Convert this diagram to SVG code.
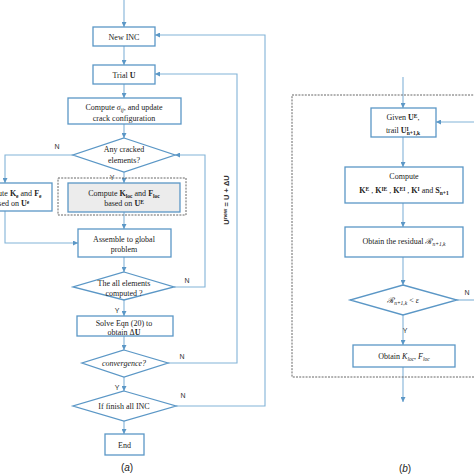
<svg xmlns="http://www.w3.org/2000/svg" width="474" height="474" viewBox="0 0 474 474">
<defs>
<marker id="ar" viewBox="0 0 6 6" refX="6" refY="3" markerWidth="5" markerHeight="5" orient="auto" markerUnits="userSpaceOnUse">
<path d="M0,0 L6,3 L0,6 z" fill="#5b97c6"/>
</marker>
</defs>
<style>
.bx{fill:#fff;stroke:#5b97c6;stroke-width:1.3}
.gb{fill:#ececec;stroke:#5b97c6;stroke-width:1.3}
.dm{fill:#fff;stroke:#5b97c6;stroke-width:1.3}
.dash{fill:none;stroke:#666;stroke-width:1;stroke-dasharray:2,1.2}
.cn{fill:none;stroke:#82b3d8;stroke-width:1.1}
.ca{fill:none;stroke:#82b3d8;stroke-width:1.1;marker-end:url(#ar)}
text{font-family:"Liberation Serif","DejaVu Serif",serif;font-size:8px;fill:#222;text-anchor:middle}
.lb{font-family:"Liberation Sans",Arial,sans-serif;font-size:7px;fill:#333}
.rot{font-family:"Liberation Sans",Arial,sans-serif;font-size:7.5px;fill:#333;font-weight:bold}
.cap{font-family:"Liberation Sans",Arial,sans-serif;font-size:10px;fill:#222}
.sb{font-size:5.5px}
.b{font-weight:bold}
.i{font-style:italic}
</style>
<rect width="474" height="474" fill="#fff"/>

<g id="connectors">
<path class="ca" d="M124,0 V27"/>
<path class="ca" d="M124,46 V65"/>
<path class="ca" d="M124,84 V98"/>
<path class="ca" d="M124,124 V138"/>
<path class="ca" d="M124,172 V183"/>
<path class="ca" d="M124,212 V229"/>
<path class="ca" d="M124,257 V272"/>
<path class="ca" d="M124,300 V316"/>
<path class="ca" d="M124,336 V350"/>
<path class="ca" d="M124,377 V391"/>
<path class="ca" d="M124,421 V434"/>
<path class="ca" d="M73,155 H5 V183"/>
<path class="ca" d="M5,211 V243 H78"/>
<path class="ca" d="M174,287 H205 V155 H175"/>
<path class="ca" d="M168,363 H237 V74 H155"/>
<path class="ca" d="M176,406 H265 V35 H155"/>
<path class="ca" d="M403,77 V108"/>
<path class="ca" d="M474,122 H436"/>
<path class="ca" d="M403,137 V167"/>
<path class="ca" d="M403,203 V227"/>
<path class="ca" d="M403,257 V285"/>
<path class="ca" d="M403,315 V345"/>
<path class="ca" d="M403,367 V402"/>
<path class="cn" d="M457,300 H474"/>
</g>

<g id="labels">
<text class="lb" x="57" y="149">N</text>
<text class="lb" x="112" y="180">Y</text>
<text class="lb" x="187" y="283">N</text>
<text class="lb" x="117" y="313">Y</text>
<text class="lb" x="182" y="359">N</text>
<text class="lb" x="117" y="390">Y</text>
<text class="lb" x="183" y="398">N</text>
<text class="lb" x="467" y="295">N</text>
<text class="lb" x="405" y="333">Y</text>
<text class="rot" transform="translate(229,200) rotate(-90)">U<tspan class="sb" dy="-2.5">new</tspan><tspan dy="2.5"> = U + ΔU</tspan></text>
<text class="cap" x="127" y="471">(<tspan class="i">a</tspan>)</text>
<text class="cap" x="405" y="472">(<tspan class="i">b</tspan>)</text>
</g>

<g id="n-newinc"><rect class="bx" x="93" y="27" width="62" height="19"/><text x="124" y="39.5">New INC</text></g>
<g id="n-trialu"><rect class="bx" x="93" y="65" width="62" height="19"/><text x="124" y="77.5">Trial <tspan class="b">U</tspan></text></g>
<g id="n-compsig"><rect class="bx" x="68" y="98" width="113" height="26"/><text x="124" y="110">Compute <tspan class="i">σ</tspan><tspan class="sb i" dy="1.5">ij</tspan><tspan dy="-1.5">, and update</tspan></text><text x="124" y="121">crack configuration</text></g>
<g id="n-anycr"><polygon class="dm" points="124,138 175,155 124,172 73,155"/><text x="124" y="152">Any cracked</text><text x="124" y="163">elements?</text></g>
<g id="n-dashbox"><rect class="dash" x="58" y="178" width="128" height="37"/></g>
<g id="n-kloc"><rect class="gb" x="68" y="183" width="112" height="29"/><text x="124" y="196">Compute <tspan class="b">K</tspan><tspan class="sb b" dy="1.5">loc</tspan><tspan dy="-1.5"> and </tspan><tspan class="b">F</tspan><tspan class="sb b" dy="1.5">loc</tspan></text><text x="124" y="206">based on <tspan class="b">U</tspan><tspan class="sb b" dy="-2.5">E</tspan></text></g>
<g id="n-ke"><rect class="bx" x="-70" y="183" width="122" height="28"/><text x="10" y="196">Compute <tspan class="b">K</tspan><tspan class="sb b" dy="1.5">e</tspan><tspan dy="-1.5"> and </tspan><tspan class="b">F</tspan><tspan class="sb b" dy="1.5">e</tspan></text><text x="10" y="206">based on <tspan class="b">U</tspan><tspan class="sb b" dy="-2.5">e</tspan></text></g>
<g id="n-assemble"><rect class="bx" x="78" y="229" width="93" height="28"/><text x="124" y="242">Assemble to global</text><text x="124" y="252">problem</text></g>
<g id="n-allel"><polygon class="dm" points="124,272 174,287 124,300 73,287"/><text x="124" y="286">The all elements</text><text x="124" y="296">computed ?</text></g>
<g id="n-solve"><rect class="bx" x="77" y="316" width="96" height="20"/><text x="124" y="326">Solve Eqn (20) to</text><text x="124" y="335">obtain Δ<tspan class="b">U</tspan></text></g>
<g id="n-conv"><polygon class="dm" points="124,350 168,363 124,377 82,363"/><text class="i" x="124" y="366">convergence?</text></g>
<g id="n-finish"><polygon class="dm" points="124,391 176,406 124,421 73,406"/><text x="124" y="409">If finish all INC</text></g>
<g id="n-end"><rect class="bx" x="105" y="434" width="39" height="21"/><text x="124.5" y="448">End</text></g>

<g id="n-dashb"><rect class="dash" x="292" y="95" width="190" height="282"/></g>
<g id="n-given"><rect class="bx" x="371" y="108" width="65" height="29"/><text x="403" y="120">Given <tspan class="b">U</tspan><tspan class="sb b" dy="-2.5">E</tspan><tspan dy="2.5">,</tspan></text><text x="403" y="133">trail <tspan class="b">U</tspan><tspan class="sb b" dy="-2.5">I</tspan><tspan class="sb b" dx="-2" dy="4.5">n+1,k</tspan></text></g>
<g id="n-compk"><rect class="bx" x="345" y="167" width="118" height="36"/><text x="404" y="179">Compute</text><text x="404" y="193"><tspan class="b">K</tspan><tspan class="sb b" dy="-2.5">E</tspan><tspan dy="2.5"> , </tspan><tspan class="b">K</tspan><tspan class="sb b" dy="-2.5">IE</tspan><tspan dy="2.5"> , </tspan><tspan class="b">K</tspan><tspan class="sb b" dy="-2.5">EI</tspan><tspan dy="2.5"> , </tspan><tspan class="b">K</tspan><tspan class="sb b" dy="-2.5">I</tspan><tspan dy="2.5">  and </tspan><tspan class="b">S</tspan><tspan class="sb b" dy="-2.5">′</tspan><tspan class="sb b" dx="-1.5" dy="4.5">n+1</tspan></text></g>
<g id="n-resid"><rect class="bx" x="345" y="227" width="118" height="30"/><text x="404" y="244">Obtain the residual <tspan class="i">ℛ</tspan><tspan class="sb i" dy="1.5">n+1,k</tspan></text></g>
<g id="n-rdiam"><polygon class="dm" points="403,285 457,300 403,315 350,300"/><text x="403" y="303"><tspan class="i">ℛ</tspan><tspan class="sb i" dy="1.5">n+1,k</tspan><tspan dy="-1.5"> &lt; </tspan><tspan class="i">ε</tspan></text></g>
<g id="n-obtk"><rect class="bx" x="353" y="345" width="102" height="22"/><text x="404" y="359">Obtain <tspan class="i">K</tspan><tspan class="sb i" dy="1.5">loc</tspan><tspan dy="-1.5">, </tspan><tspan class="i">F</tspan><tspan class="sb i" dy="1.5">loc</tspan></text></g>
</svg>
